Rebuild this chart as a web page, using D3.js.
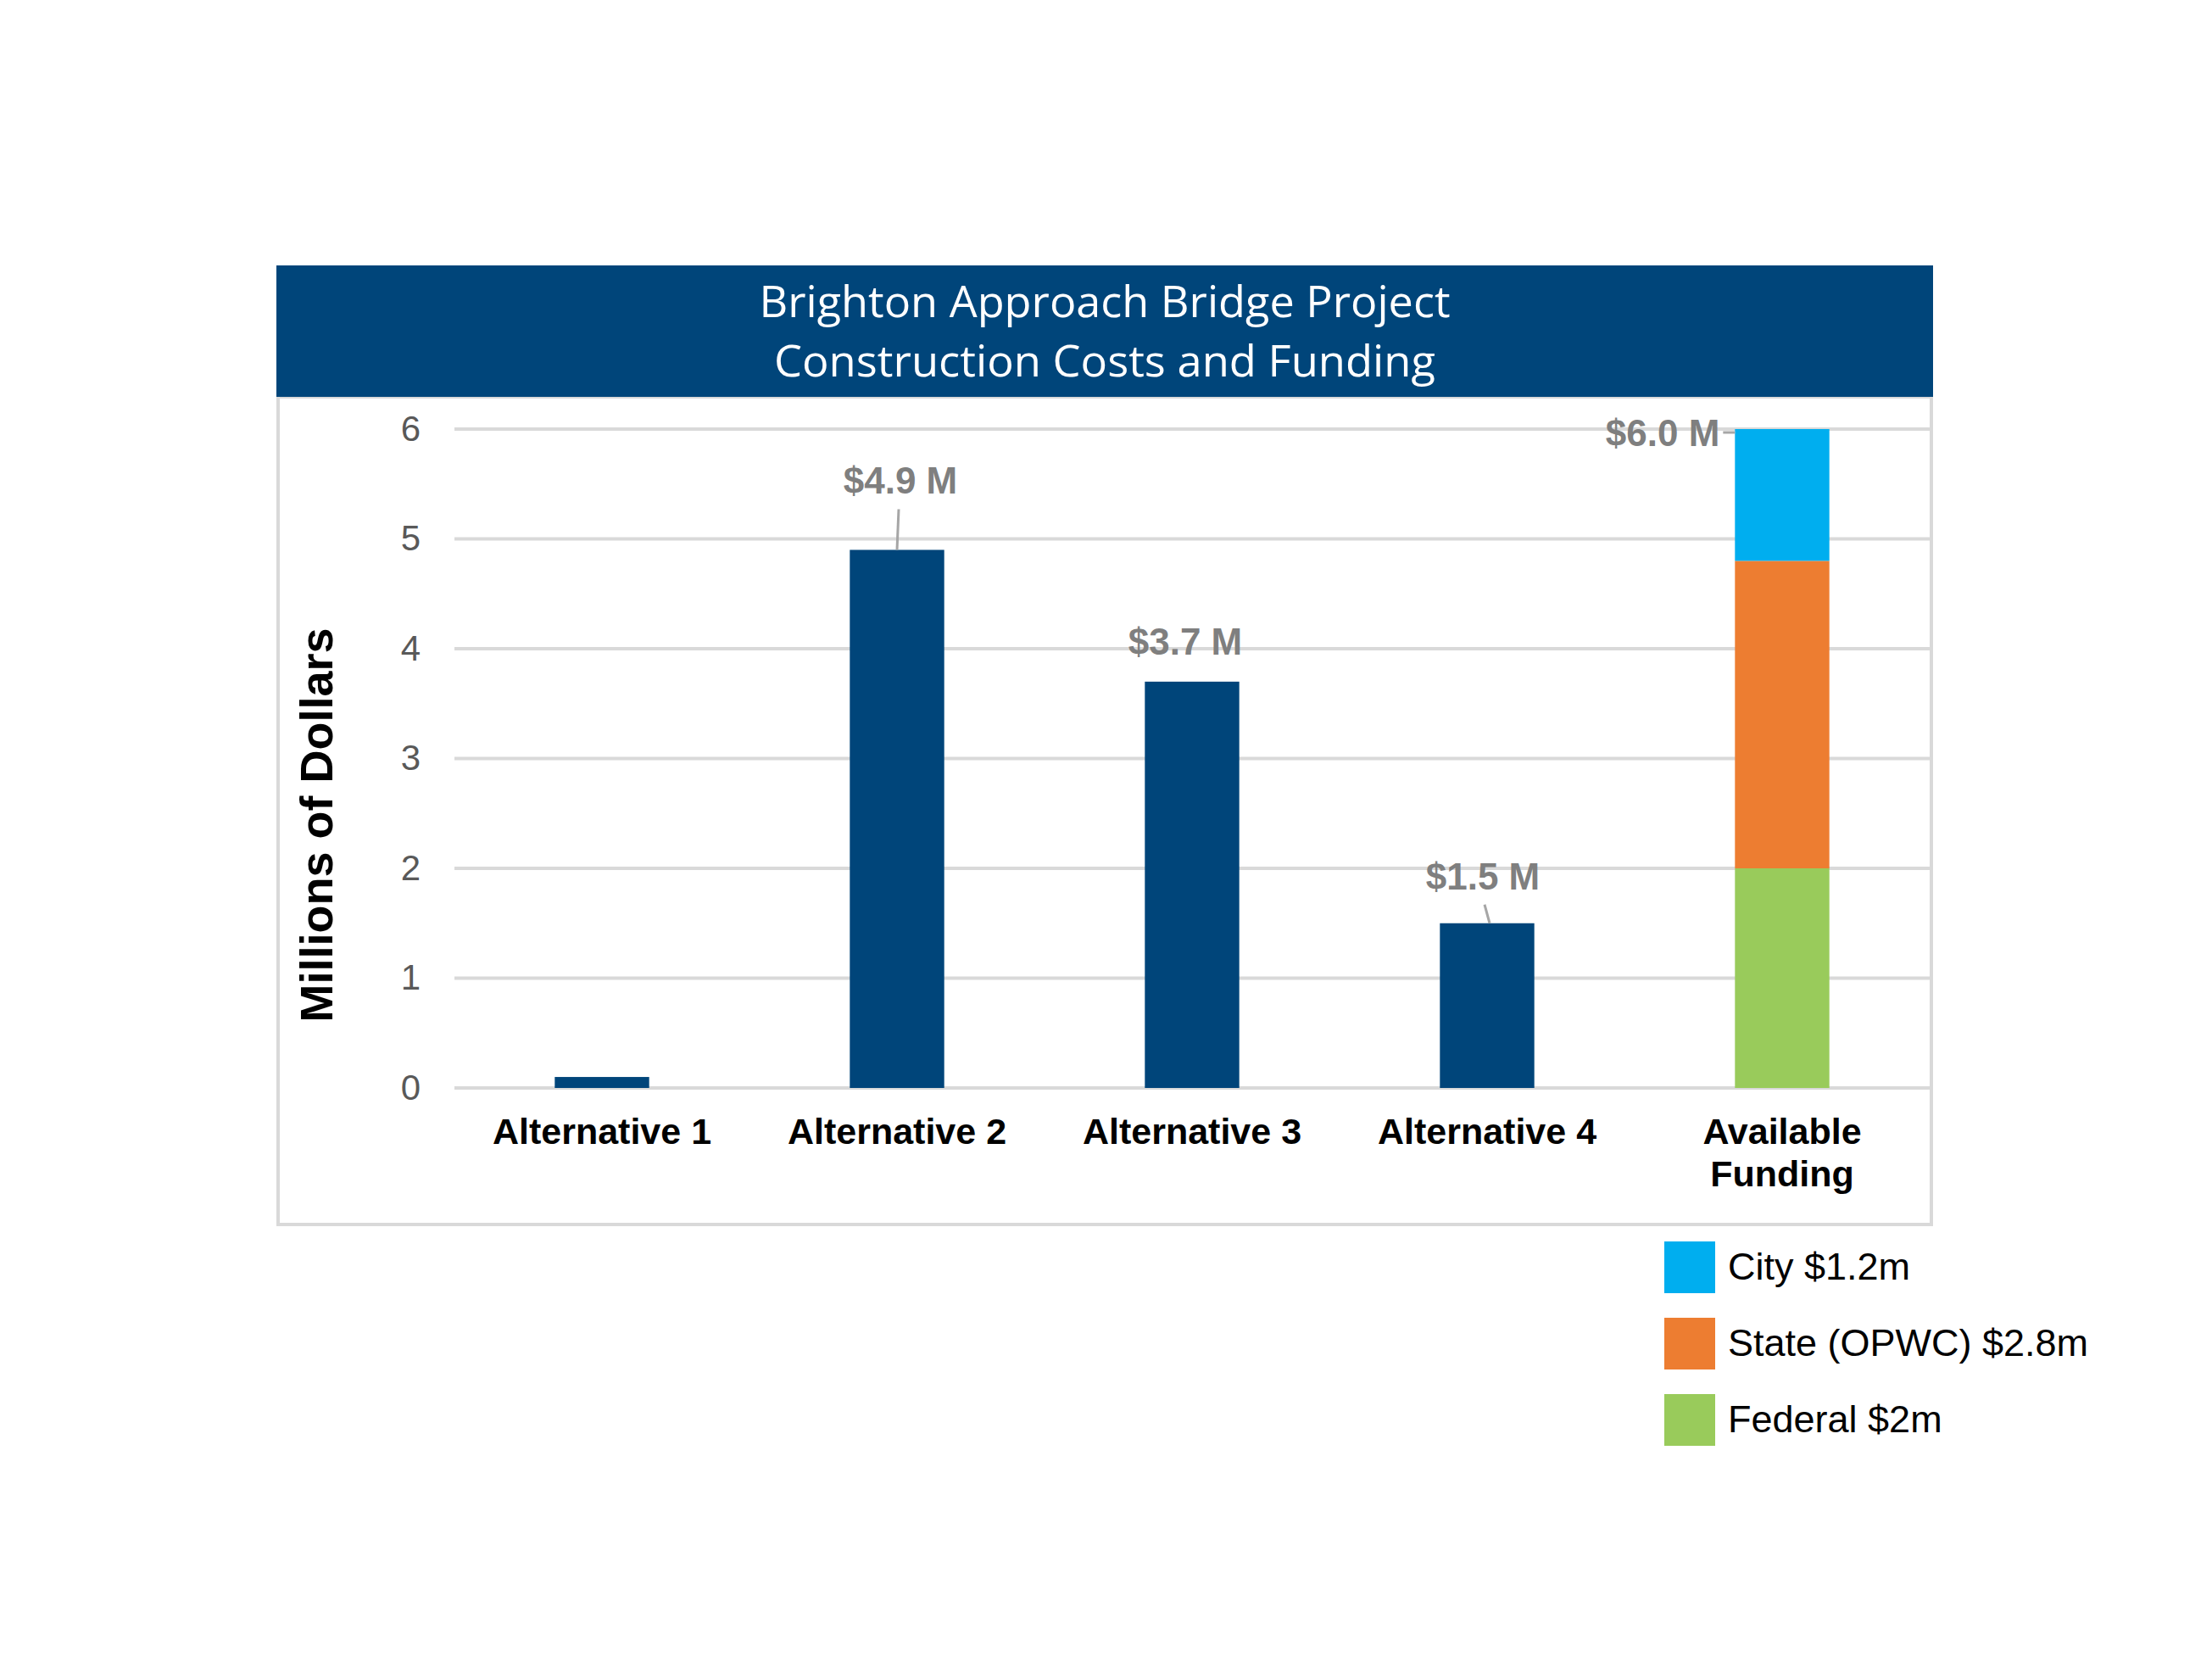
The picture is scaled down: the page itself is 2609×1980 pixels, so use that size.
<!DOCTYPE html>
<html lang="en">
<head>
    <meta charset="UTF-8">
    <title>Brighton Approach Bridge Project</title>
    <script src="https://d3js.org/d3.v7.min.js"></script>
    <style>
        body { margin: 0; background: #fff; }
        text { font-family: "Liberation Sans", Arial, sans-serif; }
    </style>
</head>
<body>
    <div id="chart"></div>
    <script>
        // data
        const categories = ["Alternative 1", "Alternative 2", "Alternative 3", "Alternative 4", "Available Funding"];
        const costs = [0.1, 4.9, 3.7, 1.5];
        const costLabels = ["", "$4.9 M", "$3.7 M", "$1.5 M"];
        const fundingSources = ["Federal $2m", "State (OPWC) $2.8m", "City $1.2m"];
        const fundingValues = [2.0, 2.8, 1.2];
        const fundingColors = ["#99CB5B", "#ED7D31", "#00AEEF"];
        const totalLabel = "$6.0 M";
        const yTicks = [0, 1, 2, 3, 4, 5, 6];

        const W = 2609, H = 1980;
        const plot = { left: 536, right: 2276, top: 506, bottom: 1283 };

        const svg = d3.select("#chart")
            .append("svg")
            .attr("width", W)
            .attr("height", H);

        // frame + title banner
        svg.append("rect")
            .attr("x", 328).attr("y", 468)
            .attr("width", 1950).attr("height", 976)
            .attr("fill", "#fff")
            .attr("stroke", "#D9D9D9")
            .attr("stroke-width", 4);

        svg.append("rect")
            .attr("x", 326).attr("y", 313)
            .attr("width", 1954).attr("height", 155)
            .attr("fill", "#00457A");

        const titleLines = ["Brighton Approach Bridge Project", "Construction Costs and Funding"];
        svg.append("g").selectAll("text")
            .data(titleLines)
            .join("text")
            .attr("x", 1303)
            .attr("y", (d, i) => 374 + i * 70)
            .attr("text-anchor", "middle")
            .attr("fill", "#fff")
            .style("font-family", "'Open Sans', 'Noto Sans', sans-serif")
            .style("font-size", "52px")
            .attr("textLength", (d, i) => i === 0 ? 815 : 780)
            .attr("lengthAdjust", "spacingAndGlyphs")
            .text(d => d);

        const x = d3.scaleBand().domain(categories).range([plot.left, plot.right]).padding(0);
        const y = d3.scaleLinear().domain([0, 6]).range([plot.bottom, plot.top]);
        const barW = x.bandwidth() * 0.32;
        const cx = c => x(c) + x.bandwidth() / 2;

        // gridlines
        svg.append("g")
            .selectAll("line")
            .data(yTicks)
            .join("line")
            .attr("x1", plot.left).attr("x2", plot.right)
            .attr("y1", d => y(d)).attr("y2", d => y(d))
            .attr("stroke", "#D9D9D9")
            .attr("stroke-width", 4);

        // y axis labels
        const yAxis = svg.append("g")
            .attr("transform", `translate(${plot.left - 40},0)`)
            .call(d3.axisLeft(y).tickValues(yTicks).tickSize(0).tickPadding(0).tickFormat(d3.format("d")));
        yAxis.select(".domain").remove();
        yAxis.selectAll("text")
            .style("font-size", "42px")
            .style("font-family", "'Liberation Sans', Arial, sans-serif")
            .attr("fill", "#595959");

        svg.append("text")
            .attr("transform", "translate(392,973) rotate(-90)")
            .attr("text-anchor", "middle")
            .style("font-size", "54px")
            .style("font-weight", "bold")
            .attr("fill", "#000")
            .text("Millions of Dollars");

        // cost bars
        const costData = costs.map((v, i) => ({ cat: categories[i], value: v, label: costLabels[i] }));
        svg.append("g").selectAll("rect")
            .data(costData)
            .join("rect")
            .attr("x", d => cx(d.cat) - barW / 2)
            .attr("y", d => y(d.value))
            .attr("width", barW)
            .attr("height", d => y(0) - y(d.value))
            .attr("fill", "#00457A");

        // stacked funding bar
        const fundCat = categories[4];
        let acc = 0;
        const stack = fundingValues.map((v, i) => {
            const s = { y0: acc, y1: acc + v, color: fundingColors[i] };
            acc += v;
            return s;
        });
        svg.append("g").selectAll("rect")
            .data(stack)
            .join("rect")
            .attr("x", cx(fundCat) - barW / 2)
            .attr("y", d => y(d.y1))
            .attr("width", barW)
            .attr("height", d => y(d.y0) - y(d.y1))
            .attr("fill", d => d.color);

        // data labels (offsets relative to bar top / centre)
        const labelOffsets = [null, { dx: 4, dy: -66, lead: true }, { dx: -8, dy: -32 }, { dx: -5, dy: -40, lead: true }];
        const lab = svg.append("g");
        costData.forEach((d, i) => {
            if (!d.label) return;
            const o = labelOffsets[i];
            lab.append("text")
                .attr("x", cx(d.cat) + o.dx)
                .attr("y", y(d.value) + o.dy)
                .attr("text-anchor", "middle")
                .style("font-size", "44px")
                .style("font-weight", "bold")
                .attr("fill", "#7F7F7F")
                .text(d.label);
            if (o.lead) {
                const up = i === 1;
                lab.append("line")
                    .attr("x1", cx(d.cat) + (up ? 2 : -3))
                    .attr("y1", y(d.value) + o.dy + 18)
                    .attr("x2", cx(d.cat) + (up ? 0 : 3))
                    .attr("y2", y(d.value))
                    .attr("stroke", "#A6A6A6")
                    .attr("stroke-width", 3);
            }
        });

        const total = d3.sum(fundingValues);
        lab.append("text")
            .attr("x", cx(fundCat) - barW / 2 - 18)
            .attr("y", y(total) + 20)
            .attr("text-anchor", "end")
            .style("font-size", "44px")
            .style("font-weight", "bold")
            .attr("fill", "#7F7F7F")
            .text(totalLabel);
        lab.append("line")
            .attr("x1", cx(fundCat) - barW / 2 - 14)
            .attr("x2", cx(fundCat) - barW / 2)
            .attr("y1", y(total) + 4).attr("y2", y(total) + 4)
            .attr("stroke", "#A6A6A6")
            .attr("stroke-width", 3);

        // category labels
        const catG = svg.append("g");
        categories.forEach(c => {
            const words = c === "Available Funding" ? ["Available", "Funding"] : [c];
            catG.append("text")
                .attr("x", cx(c))
                .attr("y", plot.bottom + 66)
                .attr("text-anchor", "middle")
                .style("font-size", "43px")
                .style("font-weight", "bold")
                .attr("fill", "#000")
                .selectAll("tspan")
                .data(words)
                .join("tspan")
                .attr("x", cx(c))
                .attr("dy", (d, i) => i === 0 ? 0 : 50)
                .text(d => d);
        });

        // legend (top to bottom: City, State, Federal)
        const legendOrder = [2, 1, 0];
        const leg = svg.append("g").attr("transform", "translate(1963,1464)");
        const items = leg.selectAll("g")
            .data(legendOrder)
            .join("g")
            .attr("transform", (d, i) => `translate(0,${i * 90})`);
        items.append("rect")
            .attr("width", 60).attr("height", 61)
            .attr("fill", d => fundingColors[d]);
        items.append("text")
            .attr("x", 75).attr("y", 45)
            .style("font-size", "45px")
            .attr("fill", "#000")
            .text(d => fundingSources[d]);
    </script>
</body>
</html>
